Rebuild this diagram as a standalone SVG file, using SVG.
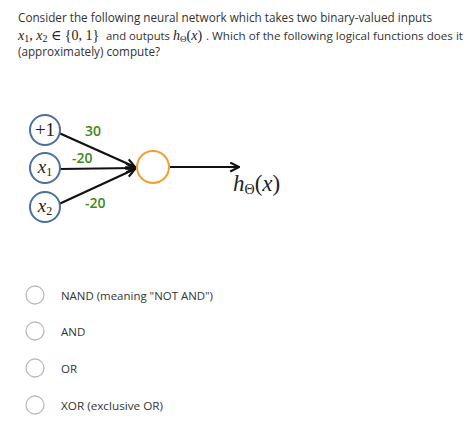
<svg xmlns="http://www.w3.org/2000/svg" width="474" height="421" viewBox="0 0 474 421">
<defs>
<style>
.t{font-family:"Open Sans","Noto Sans",sans-serif;font-size:12.5px;fill:#333}
.t2{font-family:"Open Sans","Noto Sans",sans-serif;font-size:11.4px;fill:#333}
.m{font-family:"Liberation Serif","DejaVu Serif",serif;font-style:italic;fill:#222}
.mr{font-family:"Liberation Serif","DejaVu Serif",serif;fill:#222}
.in{fill:#fff;stroke:#4a6fa0;stroke-width:2}
.out{fill:#fff;stroke:#f0a030;stroke-width:2}
.w{font-family:"Open Sans","Noto Sans",sans-serif;font-size:14px;font-weight:600;fill:#3a8a22}
.e{stroke:#111;stroke-width:2.2;fill:none}
.r{fill:#fff;stroke:#bbb;stroke-width:1.3}
.o{font-family:"Open Sans","Noto Sans",sans-serif;font-size:11.5px;fill:#333}
</style>
<marker id="ah" viewBox="0 0 10 10" refX="9" refY="5" markerWidth="5" markerHeight="5" orient="auto" markerUnits="strokeWidth"><path d="M1,1 L9,5 L1,9" fill="none" stroke="#111" stroke-width="2"/></marker>
</defs>
<rect width="474" height="421" fill="#fff"/>
<text class="t" x="18" y="22" textLength="414" lengthAdjust="spacingAndGlyphs">Consider the following neural network which takes two binary-valued inputs</text>
<text x="18" y="40"><tspan class="m" font-size="14">x</tspan><tspan class="mr" font-size="10" dy="2">1</tspan><tspan class="mr" font-size="14" dy="-2">, </tspan><tspan class="m" font-size="14">x</tspan><tspan class="mr" font-size="10" dy="2">2</tspan><tspan class="mr" font-size="14" dy="-2"> ∈ {0, 1}</tspan></text>
<text class="t2" x="106" y="40" textLength="64" lengthAdjust="spacingAndGlyphs">and outputs</text>
<text x="173" y="40"><tspan class="m" font-size="14">h</tspan><tspan class="mr" font-size="9" dy="2">Θ</tspan><tspan class="mr" font-size="14" dy="-2">(</tspan><tspan class="m" font-size="14">x</tspan><tspan class="mr" font-size="14">)</tspan></text>
<text class="t2" x="206" y="40" textLength="257" lengthAdjust="spacingAndGlyphs">. Which of the following logical functions does it</text>
<text class="t" x="18" y="56" textLength="142" lengthAdjust="spacingAndGlyphs">(approximately) compute?</text>

<g id="connectors">
<line class="e" x1="59" y1="133" x2="135" y2="167" marker-end="url(#ah)"/>
<line class="e" x1="60" y1="169" x2="135" y2="168" marker-end="url(#ah)"/>
<line class="e" x1="59" y1="204" x2="135" y2="169" marker-end="url(#ah)"/>
<line class="e" x1="170" y1="167" x2="239" y2="167" marker-end="url(#ah)"/>
<text class="w" x="85" y="136">30</text>
<text class="w" x="72" y="163">-20</text>
<text class="w" x="85" y="208">-20</text>
</g>

<g id="bias"><circle class="in" cx="45" cy="130" r="15"/><text class="mr" x="45" y="136" font-size="19" text-anchor="middle">+1</text></g>
<g id="x1"><circle class="in" cx="45" cy="168" r="15"/><text x="45" y="173" text-anchor="middle"><tspan class="m" font-size="19">x</tspan><tspan class="mr" font-size="12" dy="3">1</tspan></text></g>
<g id="x2"><circle class="in" cx="45" cy="207" r="15"/><text x="45" y="212" text-anchor="middle"><tspan class="m" font-size="19">x</tspan><tspan class="mr" font-size="12" dy="3">2</tspan></text></g>
<g id="output"><circle class="out" cx="153" cy="167" r="16"/></g>
<g id="h"><text x="233" y="191"><tspan class="m" font-size="23">h</tspan><tspan class="mr" font-size="14" dy="3">Θ</tspan><tspan class="mr" font-size="23" dy="-3">(</tspan><tspan class="m" font-size="23">x</tspan><tspan class="mr" font-size="23">)</tspan></text></g>

<g id="options">
<circle class="r" cx="35" cy="295" r="9"/><text class="o" x="61" y="300" textLength="152" lengthAdjust="spacingAndGlyphs">NAND (meaning "NOT AND")</text>
<circle class="r" cx="35" cy="331" r="9"/><text class="o" x="61" y="336">AND</text>
<circle class="r" cx="35" cy="368" r="9"/><text class="o" x="61" y="373">OR</text>
<circle class="r" cx="35" cy="405" r="9"/><text class="o" x="61" y="410" textLength="102" lengthAdjust="spacingAndGlyphs">XOR (exclusive OR)</text>
</g>
</svg>
